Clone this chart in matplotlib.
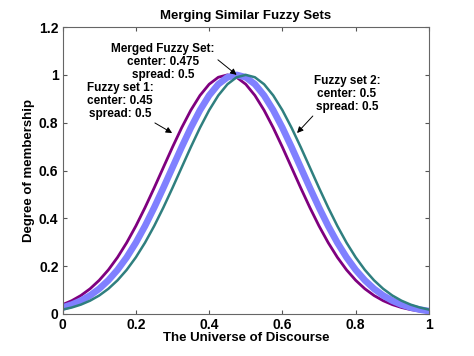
import numpy as np
import matplotlib
matplotlib.use("Agg")
from matplotlib import pyplot as plt

# universe of discourse, sampled every 0.025
x = np.linspace(0, 1, 41)

# membership values
fuzzy1 = [0.0392, 0.0556, 0.0773, 0.1054, 0.1409, 0.1845, 0.2369, 0.2982, 0.3679, 0.4449,
          0.5273, 0.6126, 0.6977, 0.7788, 0.8521, 0.9139, 0.9608, 0.9900, 1.0000, 0.9900,
          0.9608, 0.9139, 0.8521, 0.7788, 0.6977, 0.6126, 0.5273, 0.4449, 0.3679, 0.2982,
          0.2369, 0.1845, 0.1409, 0.1054, 0.0773, 0.0556, 0.0392, 0.0271, 0.0183, 0.0122,
          0.0079]
merged = [0.0271, 0.0392, 0.0556, 0.0773, 0.1054, 0.1409, 0.1845, 0.2369, 0.2982, 0.3679,
          0.4449, 0.5273, 0.6126, 0.6977, 0.7788, 0.8521, 0.9139, 0.9608, 0.9900, 1.0000,
          0.9900, 0.9608, 0.9139, 0.8521, 0.7788, 0.6977, 0.6126, 0.5273, 0.4449, 0.3679,
          0.2982, 0.2369, 0.1845, 0.1409, 0.1054, 0.0773, 0.0556, 0.0392, 0.0271, 0.0183,
          0.0122]
fuzzy2 = [0.0183, 0.0271, 0.0392, 0.0556, 0.0773, 0.1054, 0.1409, 0.1845, 0.2369, 0.2982,
          0.3679, 0.4449, 0.5273, 0.6126, 0.6977, 0.7788, 0.8521, 0.9139, 0.9608, 0.9900,
          1.0000, 0.9900, 0.9608, 0.9139, 0.8521, 0.7788, 0.6977, 0.6126, 0.5273, 0.4449,
          0.3679, 0.2982, 0.2369, 0.1845, 0.1409, 0.1054, 0.0773, 0.0556, 0.0392, 0.0271,
          0.0183]

xticks = [0, 0.2, 0.4, 0.6, 0.8, 1]
xticklabels = ["0", "0.2", "0.4", "0.6", "0.8", "1"]
yticks = [0, 0.2, 0.4, 0.6, 0.8, 1, 1.2]
yticklabels = ["0", "0.2", "0.4", "0.6", "0.8", "1", "1.2"]

plt.rcParams['font.family'] = ['Liberation Sans', 'DejaVu Sans']
plt.rcParams['font.weight'] = 'bold'

fig = plt.figure(figsize=(4.74, 3.56), dpi=100)
ax = fig.add_axes([0.132, 0.118, 0.773, 0.806])

ax.plot(x, fuzzy1, color="#7f007f", lw=2.0)
ax.plot(x, merged, color="#8080ff", lw=4.8)
ax.plot(x, fuzzy2, color="#2f7f7f", lw=1.8)

ax.set_xlim(0, 1)
ax.set_ylim(0, 1.2)
ax.set_xticks(xticks)
ax.set_xticklabels(xticklabels, fontsize=10, fontweight='bold')
ax.set_yticks(yticks)
ax.set_yticklabels(yticklabels, fontsize=10, fontweight='bold')
ax.tick_params(direction='in', length=3, top=True, right=True, color='#555555', pad=3)
for s in ax.spines.values():
    s.set_color('#666666')
    s.set_linewidth(0.8)

ax.set_title("Merging Similar Fuzzy Sets", fontsize=9.5, fontweight='bold', pad=6)
ax.set_xlabel("The Universe of Discourse", fontsize=9.5, fontweight='bold', labelpad=0)
ax.set_ylabel("Degree of membership", fontsize=9.5, fontweight='bold', labelpad=3)

arrow = dict(arrowstyle='-|>', color='black', lw=0.7, mutation_scale=9, shrinkA=0, shrinkB=0)
txt = dict(fontsize=8.5, fontweight='bold', ha='center', va='center', linespacing=1.15)

ax.annotate("Merged Fuzzy Set:\ncenter: 0.475\nspread: 0.5", xy=(0.274, 1.054), **txt)
ax.annotate("", xy=(0.475, 1.0), xytext=(0.424, 1.063), arrowprops=arrow)
ax.annotate("Fuzzy set 1:\ncenter: 0.45\nspread: 0.5", xy=(0.157, 0.891), **txt)
ax.annotate("", xy=(0.299, 0.757), xytext=(0.252, 0.799), arrowprops=arrow)
ax.annotate("Fuzzy set 2:\ncenter: 0.5\nspread: 0.5", xy=(0.776, 0.920), **txt)
ax.annotate("", xy=(0.640, 0.757), xytext=(0.683, 0.828), arrowprops=arrow)

fig.savefig("out.png", dpi=100)
